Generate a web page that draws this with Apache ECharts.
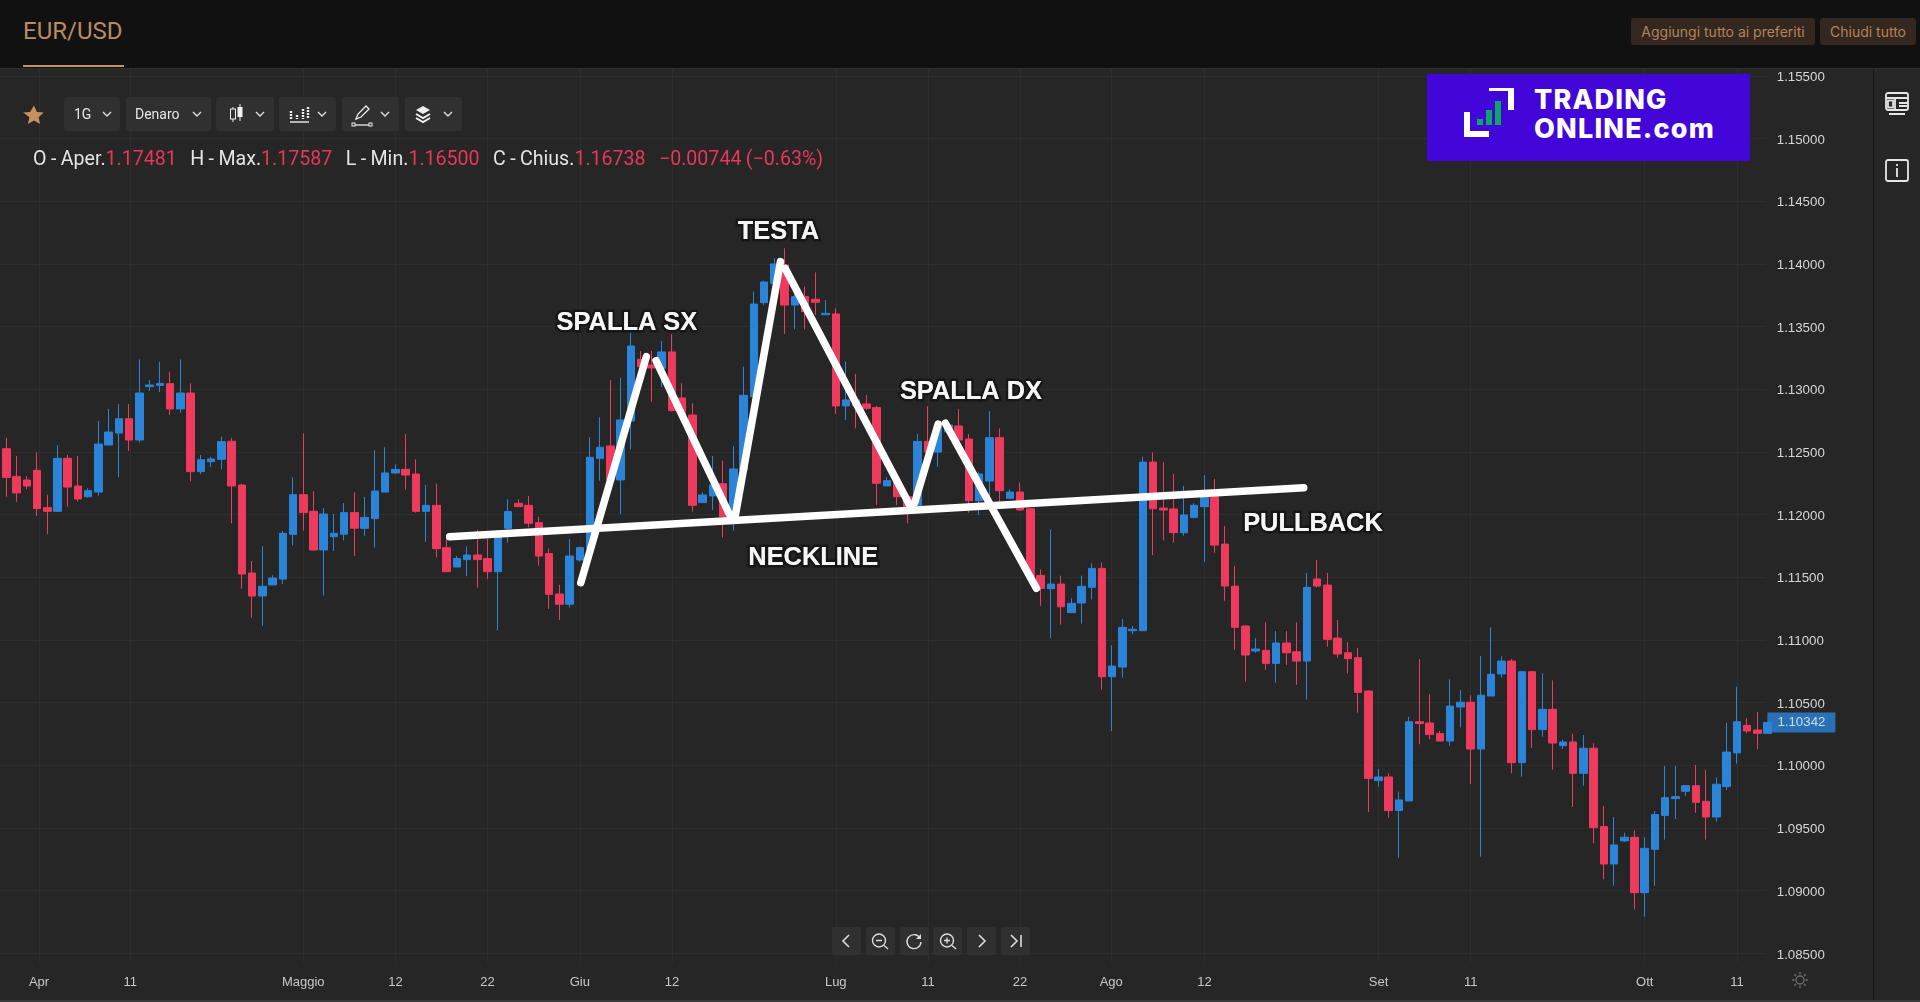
<!DOCTYPE html>
<html>
<head>
<meta charset="utf-8">
<title>EUR/USD</title>
<script src="https://cdn.jsdelivr.net/npm/echarts@6/dist/echarts.min.js"></script>
<style>
html,body{margin:0;padding:0;width:1920px;height:1002px;overflow:hidden;background:#262626;font-family:Roboto,sans-serif}
#main{position:absolute;left:-10px;top:0;width:1930px;height:1002px}
.box{position:absolute}
#head{left:0;top:0;width:1920px;height:68px;background:#111;border-bottom:1px solid #2e2e2e}
#tab{left:23px;top:15px;font-size:24px;line-height:32px;color:#b98c62}
#tabline{left:23px;top:65px;width:101px;height:2px;background:#c4915f}
.hbtn{top:18px;height:27px;line-height:27px;background:#33271f;color:#b3835c;font:14px/27px Inter,sans-serif;text-align:center;border-radius:3px}
.tbtn{top:97px;height:34px;background:#303030;border-radius:3px;color:#e6e6e6;font-size:14px;line-height:34px;text-align:center}
.tbtn svg{position:absolute;top:0;left:0}
#ohlc{left:33px;top:147px;font-size:19.6px;line-height:24px;color:#e4e4e4;white-space:pre;word-spacing:-0.42px}
#ohlc b{font-weight:400;color:#e8375a}
#logo{left:1427px;top:74px;width:323px;height:87px;background:#4206d8}
#logo div{position:absolute;left:107px;color:#fff;font:800 27px/30px Inter,sans-serif;letter-spacing:1.2px;white-space:nowrap}
#side{left:1873px;top:69px;width:1px;height:933px;background:#151515}
.nav{top:927px;width:29px;height:28px;background:#303030;border-radius:2px}
#foot{left:0;top:1000px;width:1920px;height:2px;background:#3a3a3a}
</style>
</head>
<body>
<div id="main"></div>

<div class="box" id="head"></div>
<div class="box" id="tab">EUR/USD</div>
<div class="box" id="tabline"></div>
<div class="box hbtn" style="left:1631px;width:184px">Aggiungi tutto ai preferiti</div>
<div class="box hbtn" style="left:1820px;width:96px">Chiudi tutto</div>

<svg class="box" style="left:23px;top:104px" width="22" height="22" viewBox="0 0 22 22"><path d="M11 1.5l2.9 6.4 6.9.7-5.2 4.6 1.5 6.8-6.1-3.5-6.1 3.5 1.5-6.8L.2 8.6l6.9-.7z" fill="#c4915f"/></svg>
<div class="box tbtn" style="left:64px;width:56px"><span style="position:absolute;left:10px">1G</span><svg width="56" height="34"><path d="M39 15l4 4 4-4" fill="none" stroke="#ddd" stroke-width="1.4"/></svg></div>
<div class="box tbtn" style="left:126px;width:85px"><span style="position:absolute;left:9px">Denaro</span><svg width="85" height="34"><path d="M67 15l4 4 4-4" fill="none" stroke="#ddd" stroke-width="1.4"/></svg></div>
<div class="box tbtn" style="left:216px;width:58px"><svg width="58" height="34"><path d="M17 10v15M24 7v17" stroke="#eee"/><rect x="14.500" y="12" width="5" height="10" fill="#303030" stroke="#eee"/><rect x="21.500" y="10" width="5" height="10" fill="#eee"/><path d="M40 15l4 4 4-4" fill="none" stroke="#ddd" stroke-width="1.4"/></svg></div>
<div class="box tbtn" style="left:279px;width:57px"><svg width="57" height="34"><path d="M11 25h19" stroke="#eee" stroke-width="1.400"/><path d="M12 14v8M18 18v4M24 12v10M29 10v12" stroke="#eee" stroke-width="2.400" stroke-dasharray="2 1"/><path d="M39 15l4 4 4-4" fill="none" stroke="#ddd" stroke-width="1.4"/></svg></div>
<div class="box tbtn" style="left:342px;width:57px"><svg width="57" height="34"><path d="M14 22l2-5 8-8 3 3-8 8z" fill="none" stroke="#eee" stroke-width="1.3"/><path d="M11 28h18" stroke="#eee" stroke-width="1.300"/><rect x="10" y="26" width="3" height="3" fill="#303030" stroke="#eee"/><rect x="27" y="26" width="3" height="3" fill="#303030" stroke="#eee"/><path d="M39 15l4 4 4-4" fill="none" stroke="#ddd" stroke-width="1.4"/></svg></div>
<div class="box tbtn" style="left:405px;width:57px"><svg width="57" height="34"><path d="M11 13l7-4 7 4-7 4z" fill="#eee"/><path d="M11 17l7 4 7-4M11 21l7 4 7-4" fill="none" stroke="#eee" stroke-width="2"/><path d="M39 15l4 4 4-4" fill="none" stroke="#ddd" stroke-width="1.4"/></svg></div>

<div class="box" id="ohlc">O - Aper.<b>1.17481</b>   H - Max.<b>1.17587</b>   L - Min.<b>1.16500</b>   C - Chius.<b>1.16738</b>   <b>−0.00744 (−0.63%)</b></div>

<div class="box" id="logo">
  <svg style="position:absolute;left:37px;top:14px" width="54" height="52" viewBox="0 0 54 52"><path d="M25 0h25v25h-6V6H25zM0 27h6v19h19v6H0z" fill="#fff" transform="translate(0,-3)"/><rect x="13" y="31" width="6" height="6" fill="#0ba868"/><rect x="22" y="22" width="6" height="15" fill="#0ba868"/><rect x="31" y="13" width="6" height="24" fill="#0ba868"/></svg>
  <div style="top:11px">TRADING</div>
  <div style="top:40px">ONLINE.com</div>
</div>

<div class="box" id="side"></div>
<svg class="box" style="left:1884px;top:91px" width="26" height="26" viewBox="0 0 26 26" fill="none" stroke="#e6e6e6" stroke-width="1.800"><rect x="2" y="2" width="22" height="17" rx="2"/><path d="M2 7h22M11 7v12M15 12h9M15 15h9M5 23h16"/><rect x="4" y="9.500" width="5" height="7"/></svg>
<svg class="box" style="left:1884px;top:158px" width="26" height="26" viewBox="0 0 26 26" fill="none" stroke="#e6e6e6" stroke-width="1.800"><rect x="2" y="2" width="22" height="21" rx="2"/><path d="M13 10v9M13 6v2"/></svg>

<div class="box nav" style="left:832px"><svg width="29" height="28" fill="none" stroke="#ddd" stroke-width="1.600"><path d="M17 8l-6 6 6 6"/></svg></div>
<div class="box nav" style="left:866px"><svg width="29" height="28" fill="none" stroke="#ddd" stroke-width="1.400"><circle cx="13" cy="13.500" r="6.500"/><path d="M10 13.500h6M18 18.500l4 3.500"/></svg></div>
<div class="box nav" style="left:900px"><svg width="29" height="28" fill="none" stroke="#ddd" stroke-width="1.400"><path d="M20 11a7 7 0 1 0 1 4"/><path d="M21 7v5h-5" fill="#ddd" stroke="none"/></svg></div>
<div class="box nav" style="left:933px"><svg width="29" height="28" fill="none" stroke="#ddd" stroke-width="1.400"><circle cx="14" cy="13.500" r="6.500"/><path d="M11 13.500h6M14 10.500v6M19 18.500l4 3.500"/></svg></div>
<div class="box nav" style="left:967px"><svg width="29" height="28" fill="none" stroke="#ddd" stroke-width="1.600"><path d="M12 8l6 6-6 6"/></svg></div>
<div class="box nav" style="left:1001px"><svg width="29" height="28" fill="none" stroke="#ddd" stroke-width="1.600"><path d="M10 8l6 6-6 6M20 8v12"/></svg></div>

<svg class="box" style="left:1791px;top:971px" width="18" height="18" viewBox="0 0 18 18" fill="none" stroke="#6b6b6b" stroke-width="1.400"><circle cx="9" cy="9" r="4"/><path d="M9 1v2.500M9 14.500V17M1 9h2.500M14.500 9H17M3.300 3.300l1.800 1.800M12.900 12.900l1.800 1.800M14.700 3.300l-1.800 1.800M5.100 12.900l-1.800 1.800"/></svg>
<div class="box" id="foot"></div>

<script>
// candele giornaliere EUR/USD
var opens = [
1.12747,1.12526,1.12305,1.12276,1.12353,1.12056,1.12026,1.12449,1.12228,1.12143,
1.12180,1.12555,1.12651,1.12765,1.12595,1.13021,1.13031,1.13045,1.12843,1.12970,
1.12343,1.12422,1.12441,1.12585,1.12236,1.11534,1.11351,1.11439,1.11486,1.11843,
1.12159,1.12026,1.11718,1.11824,1.11843,1.12016,1.11891,1.11968,1.12180,1.12332,
1.12361,1.12324,1.12026,1.12074,1.11736,1.11582,1.11641,1.11678,1.11649,1.11545,
1.11891,1.12090,1.12074,1.11936,1.11689,1.11367,1.11285,1.11638,1.11731,1.12449,
1.12548,1.12277,1.12747,1.13239,1.13194,1.13167,1.13298,1.12931,1.12795,1.12096,
1.12149,1.12247,1.11984,1.12356,1.12941,1.13691,1.13845,1.13992,1.13672,1.13739,
1.13718,1.13595,1.13601,1.12867,1.12915,1.12883,1.12854,1.12229,1.12276,1.12143,
1.12074,1.12584,1.12499,1.12661,1.12707,1.12603,1.12111,1.12268,1.12614,1.12130,
1.12180,1.12047,1.11515,1.11409,1.11446,1.11218,1.11295,1.11420,1.11571,1.10707,
1.10784,1.11074,1.11074,1.12419,1.12052,1.12045,1.11856,1.11978,1.12063,1.12143,
1.11765,1.11430,1.11111,1.10912,1.10917,1.10813,1.10976,1.10906,1.10832,1.11486,
1.11438,1.11015,1.10898,1.10859,1.10593,1.09878,1.09907,1.09639,1.09716,1.10348,
1.10338,1.10253,1.10194,1.10465,1.10503,1.10130,1.10553,1.10729,1.10832,1.10021,
1.10747,1.10285,1.10447,1.10157,1.10186,1.09936,1.10136,1.09511,1.09213,1.09397,
1.09426,1.08984,1.09330,1.09599,1.09734,1.09793,1.09838,1.09713,1.09588,1.09830,
1.10099,1.10319,1.10282,1.10255
];
var closes = [
1.12516,1.12297,1.12173,1.12228,1.12048,1.12026,1.12449,1.12220,1.12125,1.12191,
1.12563,1.12659,1.12765,1.12595,1.12970,1.13034,1.13047,1.12843,1.12970,1.12343,
1.12438,1.12444,1.12582,1.12228,1.11526,1.11351,1.11428,1.11494,1.11851,1.12159,
1.12016,1.11718,1.12005,1.11851,1.12016,1.11891,1.11978,1.12188,1.12332,1.12361,
1.12316,1.12026,1.12074,1.11728,1.11545,1.11649,1.11678,1.11641,1.11545,1.11856,
1.12024,1.12064,1.11931,1.11670,1.11364,1.11285,1.11670,1.11737,1.12457,1.12537,
1.12277,1.12755,1.13345,1.13181,1.13170,1.13298,1.12830,1.12795,1.12074,1.12157,
1.12237,1.11984,1.12364,1.12952,1.13680,1.13856,1.14000,1.13672,1.13739,1.13619,
1.13694,1.13606,1.12867,1.12915,1.12869,1.12848,1.12250,1.12271,1.12143,1.12063,
1.12584,1.12499,1.12715,1.12715,1.12595,1.12111,1.12324,1.12614,1.12191,1.12180,
1.12037,1.11505,1.11412,1.11446,1.11265,1.11292,1.11428,1.11571,1.10707,1.10792,
1.11101,1.11085,1.12419,1.12047,1.12037,1.11856,1.11997,1.12074,1.12143,1.11757,
1.11430,1.11101,1.10880,1.10928,1.10813,1.10976,1.10898,1.10832,1.11420,1.11430,
1.11005,1.10888,1.10851,1.10582,1.09896,1.09907,1.09639,1.09724,1.10348,1.10333,
1.10245,1.10194,1.10473,1.10503,1.10130,1.10559,1.10726,1.10832,1.10021,1.10747,
1.10285,1.10447,1.10178,1.10186,1.09936,1.10136,1.09503,1.09213,1.09365,1.09426,
1.08984,1.09338,1.09607,1.09742,1.09750,1.09838,1.09705,1.09588,1.09849,1.10106,
1.10348,1.10274,1.10255,1.10342
];
var lows = [
1.12516,1.12143,1.12103,1.12202,1.11989,1.11843,1.12026,1.12063,1.12103,1.12135,
1.12151,1.12555,1.12297,1.12508,1.12577,1.12986,1.12978,1.12795,1.12813,1.12266,
1.12324,1.12380,1.12361,1.11931,1.11409,1.11178,1.11114,1.11439,1.11447,1.11755,
1.11872,1.11713,1.11354,1.11710,1.11795,1.11670,1.11832,1.11736,1.12180,1.12327,
1.12199,1.12016,1.11784,1.11659,1.11545,1.11582,1.11508,1.11417,1.11487,1.11075,
1.11777,1.12064,1.11899,1.11593,1.11248,1.11160,1.11258,1.11625,1.11718,1.12271,
1.12250,1.12005,1.12521,1.13154,1.12901,1.13016,1.12822,1.12782,1.12024,1.12096,
1.12037,1.11817,1.11872,1.12343,1.12941,1.13672,1.13845,1.13441,1.13478,1.13478,
1.13593,1.13595,1.12803,1.12755,1.12689,1.12835,1.12077,1.12229,1.12076,1.11930,
1.12063,1.12489,1.12382,1.12648,1.12582,1.12015,1.11997,1.12116,1.12103,1.12130,
1.12031,1.11505,1.11273,1.11015,1.11122,1.11218,1.11130,1.11324,1.10603,1.10274,
1.10699,1.11045,1.11074,1.11678,1.11795,1.11776,1.11832,1.11970,1.11622,1.11696,
1.11313,1.10920,1.10667,1.10898,1.10763,1.10659,1.10800,1.10641,1.10524,1.11417,
1.10946,1.10859,1.10734,1.10420,1.09628,1.09830,1.09583,1.09264,1.09716,1.10168,
1.10208,1.10194,1.10157,1.10303,1.09851,1.09272,1.10553,1.10699,1.09936,1.09910,
1.10138,1.10229,1.09966,1.10130,1.09668,1.09838,1.09378,1.09091,1.09040,1.09389,
1.08849,1.08793,1.09040,1.09407,1.09572,1.09753,1.09620,1.09407,1.09551,1.09803,
1.10013,1.10255,1.10128,1.10255
];
var highs = [
1.12747,1.12614,1.12468,1.12308,1.12497,1.12159,1.12553,1.12476,1.12468,1.12210,
1.12747,1.12843,1.12882,1.12882,1.13239,1.13074,1.13220,1.13140,1.13239,1.13047,
1.12476,1.12462,1.12622,1.12614,1.12247,1.11630,1.11747,1.11516,1.11869,1.12297,
1.12648,1.12188,1.12053,1.12005,1.12093,1.12178,1.12141,1.12516,1.12537,1.12401,
1.12643,1.12441,1.12236,1.12247,1.11824,1.11670,1.11747,1.11877,1.11806,1.11878,
1.12122,1.12122,1.12149,1.11984,1.11731,1.11439,1.11806,1.11745,1.12617,1.12776,
1.13074,1.13093,1.13452,1.13306,1.13306,1.13385,1.13441,1.13048,1.12888,1.12178,
1.12468,1.12431,1.12548,1.13181,1.13779,1.13867,1.14045,1.14125,1.13792,1.13819,
1.13933,1.13712,1.13646,1.13220,1.13122,1.12955,1.12867,1.12298,1.12308,1.12169,
1.12643,1.12866,1.12754,1.12741,1.12842,1.12643,1.12342,1.12826,1.12688,1.12201,
1.12257,1.12047,1.11563,1.11882,1.11513,1.11332,1.11513,1.11611,1.11619,1.10957,
1.11167,1.11111,1.12462,1.12497,1.12419,1.12324,1.12228,1.12090,1.12316,1.12284,
1.11909,1.11592,1.11119,1.11015,1.11140,1.11071,1.11071,1.11140,1.11534,1.11638,
1.11534,1.11159,1.10984,1.10938,1.10598,1.09971,1.09936,1.09790,1.10386,1.10848,
1.10569,1.10274,1.10686,1.10601,1.10559,1.10872,1.11101,1.10870,1.10848,1.10753,
1.10755,1.10734,1.10678,1.10205,1.10253,1.10242,1.10176,1.09676,1.09588,1.09463,
1.09482,1.09426,1.09636,1.09995,1.09995,1.09843,1.10003,1.09966,1.09904,1.10340,
1.10628,1.10378,1.10426,1.10348
];

var priceTicks = [1.085,1.09,1.095,1.10,1.105,1.11,1.115,1.12,1.125,1.13,1.135,1.14,1.145,1.15,1.155];
var lastPrice = 1.10342;

var monthTicks = [4.2,13.1,30,39,48,57,66,82,91,100,108.9,118,135,144,161,170];
var monthLabels = ['Apr','11','Maggio','12','22','Giu','12','Lug','11','22','Ago','12','Set','11','Ott','11'];

// figura testa e spalle: [candela, prezzo]
var neckline  = [[44.3,1.11824],[127.7,1.12215]];
var riseLeft  = [[57.1,1.11457],[63.5,1.13260]];
var fallLeft  = [[64.45,1.13228],[71.6,1.12005]];
var riseHead  = [[72.2,1.11997],[76.6,1.14018]];
var fallHead  = [[77.05,1.13965],[89.3,1.12063]];
var riseRight = [[89.7,1.12093],[92.0,1.12723]];
var fallRight = [[92.7,1.12729],[101.6,1.11412]];
var patternNames  = ['SPALLA SX','TESTA','SPALLA DX','NECKLINE','PULLBACK'];
var patternPoints = [[61.6,1.13525],[76.4,1.14251],[95.2,1.12982],[79.8,1.11653],[128.6,1.11925]];

var BLUE = '#2b84d8', RED = '#ee3a5c', GRID = '#2e2e2e';

var candles = opens.map(function(o, i) { return [o, closes[i], lows[i], highs[i]]; });
var lastIndex = candles.length - 0.5;

function whiteLine(points) {
	return {
		type: 'line', xAxisIndex: 1, data: points, symbol: 'none', z: 5, silent: true,
		lineStyle: {color: '#fff', width: 7.5, cap: 'round'}
	};
}

// nomi della figura: il bordo scuro sotto, il testo bianco sopra
function patternLabels(border, z) {
	return {
		type: 'scatter', xAxisIndex: 1, symbolSize: 1, z: z, silent: true,
		itemStyle: {color: 'rgba(0,0,0,0)'},
		data: patternPoints.map(function(p, i) { return {value: p, name: patternNames[i]}; }),
		label: {
			show: true, position: 'inside', formatter: '{b}', color: '#fff',
			fontFamily: 'Liberation Sans', fontWeight: 'bold', fontSize: 25.4,
			textBorderColor: border ? '#141414' : 'transparent', textBorderWidth: border ? 5 : 0
		}
	};
}

var myChart = echarts.init(document.getElementById('main'));
var option = {
	backgroundColor: '#262626',
	animation: false,
	grid: {left: 0.94, top: 69, width: 1781.8, height: 893},
	// taglia le linee di griglia prima delle etichette di prezzo
	graphic: [{type: 'rect', z: 1, silent: true, shape: {x: 1776, y: 69, width: 10, height: 893}, style: {fill: '#262626'}}],
	xAxis: [
		{
			type: 'category', data: candles.map(function(c, i) { return i; }),
			axisLine: {show: false}, axisTick: {show: false}, axisLabel: {show: false}, splitLine: {show: false}
		},
		{
			type: 'value', position: 'bottom', min: -0.5, max: lastIndex,
			axisLine: {show: false},
			axisTick: {show: false, customValues: monthTicks},
			axisLabel: {
				customValues: monthTicks, margin: 14, color: '#c8c8c8',
				fontFamily: 'Liberation Sans', fontSize: 13,
				formatter: function(v) { return monthLabels[monthTicks.indexOf(v)]; }
			},
			splitLine: {show: true, lineStyle: {color: GRID, width: 1}}
		}
	],
	yAxis: {
		type: 'value', position: 'right', min: 1.08431, max: 1.15555, scale: true,
		axisLine: {show: false},
		axisTick: {show: false, customValues: priceTicks},
		axisLabel: {
			customValues: priceTicks, margin: 4, color: '#d6d6d6', verticalAlign: 'top', lineHeight: 3,
			fontFamily: 'Liberation Sans', fontSize: 13.3,
			formatter: function(v) { return v.toFixed(5); }
		},
		splitLine: {show: true, lineStyle: {color: GRID, width: 1}}
	},
	series: [
		{
			type: 'candlestick', name: 'EUR/USD', data: candles, barWidth: 8, z: 2,
			itemStyle: {color: BLUE, color0: RED, borderColor: BLUE, borderColor0: RED, borderWidth: 1}
		},
		whiteLine(neckline), whiteLine(riseLeft), whiteLine(fallLeft), whiteLine(riseHead),
		whiteLine(fallHead), whiteLine(riseRight), whiteLine(fallRight),
		patternLabels(true, 6),
		patternLabels(false, 7),
		{
			// etichetta dell'ultimo prezzo, sopra l'asse
			type: 'scatter', xAxisIndex: 1, symbol: 'rect', symbolSize: [68, 20], clip: false, z: 10, silent: true,
			itemStyle: {color: BLUE},
			data: [[176.3, lastPrice]],
			label: {
				show: true, position: 'inside', color: '#f4f4f4',
				fontFamily: 'Liberation Sans', fontSize: 13.3,
				formatter: function(p) { return p.value[1].toFixed(5); }
			}
		}
	]
};
myChart.setOption(option);
</script>
</body>
</html>
